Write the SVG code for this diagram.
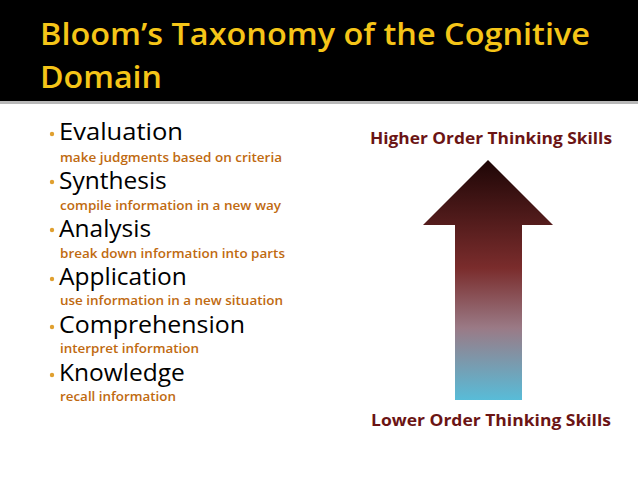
<svg xmlns="http://www.w3.org/2000/svg" width="638" height="478" viewBox="0 0 638 478">
<style>
.t{font-family:"Open Sans","Liberation Sans",sans-serif;font-weight:600;fill:#f5c518;font-size:31px}
.h{font-family:"Open Sans","Liberation Sans",sans-serif;font-size:24.5px;fill:#000}
.s{font-family:"Open Sans","Liberation Sans",sans-serif;font-weight:600;font-size:13px;fill:#c06a10}
.b{fill:#e0a030}
.l{font-family:"Open Sans","Liberation Sans",sans-serif;font-weight:bold;font-size:16.5px;fill:#6b1414}
</style>
<defs>
<linearGradient id="g" x1="0" y1="0" x2="0" y2="1">
<stop offset="0" stop-color="#1e0606"/>
<stop offset="0.45" stop-color="#7a2c2c"/>
<stop offset="0.7" stop-color="#9a7a86"/>
<stop offset="1" stop-color="#58bcd8"/>
</linearGradient>
</defs>
<rect width="638" height="478" fill="#fff"/>
<g id="header">
<rect width="638" height="101" fill="#000"/>
<rect y="101" width="638" height="3" fill="#b8b8b8"/>
<text class="t" x="40" y="45" textLength="550" lengthAdjust="spacingAndGlyphs">Bloom’s Taxonomy of the Cognitive</text>
<text class="t" x="40" y="88" textLength="122" lengthAdjust="spacingAndGlyphs">Domain</text>
</g>
<g id="list">
<circle class="b" cx="52" cy="134" r="2.2"/><text class="h" x="59" y="140" textLength="124" lengthAdjust="spacingAndGlyphs">Evaluation</text><text class="s" x="60" y="162" textLength="222" lengthAdjust="spacingAndGlyphs">make judgments based on criteria</text>
<circle class="b" cx="52" cy="182" r="2.2"/><text class="h" x="59" y="189">Synthesis</text><text class="s" x="60" y="210" textLength="221" lengthAdjust="spacingAndGlyphs">compile information in a new way</text>
<circle class="b" cx="52" cy="230" r="2.2"/><text class="h" x="59" y="237">Analysis</text><text class="s" x="60" y="258" textLength="225" lengthAdjust="spacingAndGlyphs">break down information into parts</text>
<circle class="b" cx="52" cy="279" r="2.2"/><text class="h" x="59" y="285">Application</text><text class="s" x="60" y="305" textLength="223" lengthAdjust="spacingAndGlyphs">use information in a new situation</text>
<circle class="b" cx="52" cy="327" r="2.2"/><text class="h" x="59" y="333" textLength="186" lengthAdjust="spacingAndGlyphs">Comprehension</text><text class="s" x="60" y="353" textLength="139" lengthAdjust="spacingAndGlyphs">interpret information</text>
<circle class="b" cx="52" cy="375" r="2.2"/><text class="h" x="59" y="381">Knowledge</text><text class="s" x="60" y="401" textLength="116" lengthAdjust="spacingAndGlyphs">recall information</text>
</g>
<g id="arrow">
<text class="l" x="491" y="144" text-anchor="middle" textLength="242" lengthAdjust="spacingAndGlyphs">Higher Order Thinking Skills</text>
<polygon points="488,160 553,225 522,225 522,400 455,400 455,225 423,225" fill="url(#g)"/>
<text class="l" x="491" y="426" text-anchor="middle" textLength="240" lengthAdjust="spacingAndGlyphs">Lower Order Thinking Skills</text>
</g>
</svg>
